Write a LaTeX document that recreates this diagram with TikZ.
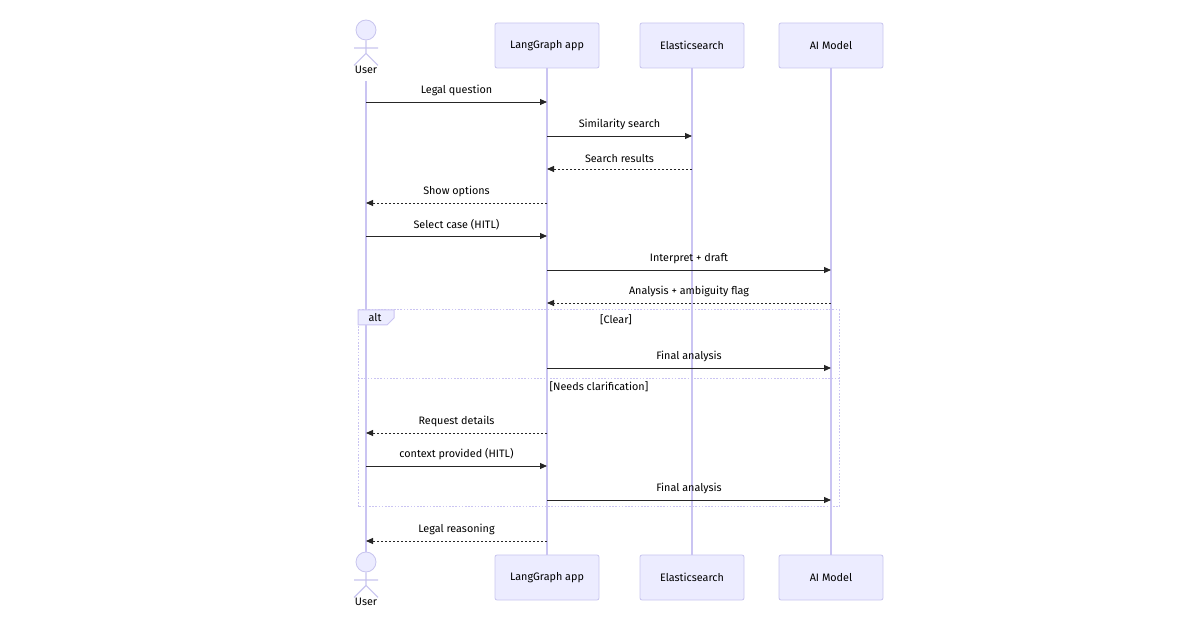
\documentclass[tikz,border=0pt]{standalone}
\usepackage{fontspec}
\setmainfont{Fira Sans}
\usetikzlibrary{positioning, arrows.meta}
\definecolor{actfill}{HTML}{ECECFF}
\definecolor{actline}{HTML}{C8C5EE}
\definecolor{lifecol}{HTML}{CAC4F2}
\begin{document}
\begin{tikzpicture}[x=0.5pt, y=-0.5pt, font=\fontsize{5.4}{6}\selectfont,
  actor/.style={draw=actline, fill=actfill, line width=0.4pt, rounded corners=1pt, minimum width=52pt, minimum height=22.5pt},
  life/.style={draw=lifecol, line width=0.6pt},
  msg/.style={draw=black!85, line width=0.45pt, -{Triangle[length=3.5pt,width=3pt]}},
  reply/.style={msg, dash pattern=on 1pt off 1pt},
  frame/.style={draw=lifecol, line width=0.5pt, dash pattern=on 0.8pt off 0.8pt}]
\useasboundingbox (0,0) rectangle (1200,630);
% Participants
\node[actor] (lg) at (547,45.5) {LangGraph app};
\node[actor] (es) at (692,45.5) {Elasticsearch};
\node[actor] (ai) at (831,45.5) {AI Model};
\node[actor] (lgb) at (547,577.5) {LangGraph app};
\node[actor] (esb) at (692,577.5) {Elasticsearch};
\node[actor] (aib) at (831,577.5) {AI Model};
% Stick figures
\foreach \n/\y in {ut/30, ub/562} {
  \node[circle, draw=actline, fill=actfill, minimum size=10pt, inner sep=0pt] (\n) at (366,\y) {};
  \draw[draw=actline, line width=0.6pt] (\n.south) -- ++(0,13) -- ++(-12,12) ++(12,-12) -- ++(12,12)
    (354,\y+18) -- (378,\y+18);
}
\node (user) at (366,70) {User};
\node (userb) at (366,602) {User};
% Lifelines
\draw[life] (user) -- (ub);
\draw[life] (lg) -- (lgb);
\draw[life] (es) -- (esb);
\draw[life] (ai) -- (aib);
% Alt frame
\draw[frame] (358,310) rectangle (839,507);
\draw[frame] (358,379) -- (839,379);
\draw[draw=lifecol, fill=actfill, line width=0.5pt] (358,310) -- (394,310) -- (394,318) -- (387,325) -- (358,325) -- cycle;
\node (alt) at (375,318) {alt};
\node (clear) at (616,320) {[Clear]};
\node (needs) at (599,387) {[Needs clarification]};
% Messages
\foreach \a/\b/\y/\t/\s in {
  user/lg/102/Legal question/msg,
  lg/es/136/Similarity search/msg,
  es/lg/169/Search results/reply,
  lg/user/203/Show options/reply,
  user/lg/236/Select case (HITL)/msg,
  lg/ai/270/Interpret + draft/msg,
  ai/lg/303/Analysis + ambiguity flag/reply,
  lg/ai/368/Final analysis/msg,
  lg/user/433/Request details/reply,
  user/lg/466/context provided (HITL)/msg,
  lg/ai/500/Final analysis/msg,
  lg/user/541/Legal reasoning/reply} {
  \draw[\s] (\a |- 0,\y) -- node[above=-0.5pt] {\t} (\b |- 0,\y);
}
\end{tikzpicture}
\end{document}
